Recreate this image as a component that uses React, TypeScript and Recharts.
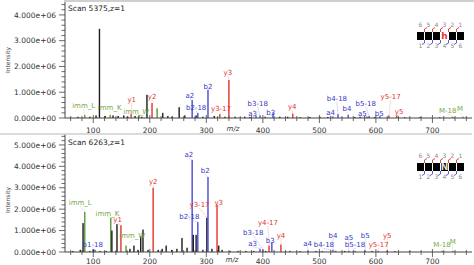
import React from 'react';
import { ComposedChart, Bar, Scatter, XAxis, YAxis, ReferenceLine } from 'recharts';

// ---------- data: top spectrum (Scan 5375) ----------
const topMz = [73,85,94,105,111,121,130,135,144,154,161,167,174,181,186,195,204,213,223,232,239,252,262,275,282,285,294,303,314,324,333,340,351,368,377,388,395,404,418,430,444,453,466,483,501,515,524,533,551,563,572,584,588,598,607,623,637,651,678,713,736,754];
const topIntensity = [0.05,0.12,0.05,0.1,3.46,0.08,0.12,0.1,0.08,0.1,0.06,0.15,0.08,0.12,0.05,0.9,0.58,0.38,0.2,0.08,0.05,0.42,0.1,0.7,0.1,0.2,0.05,1.1,0.08,0.15,0.05,1.48,0.05,0.05,0.04,0.08,0.1,0.05,0.2,0.05,0.05,0.17,0.03,0.04,0.05,0.04,0.06,0.15,0.12,0.04,0.05,0.06,0.08,0.04,0.08,0.1,0.1,0.03,0.03,0.03,0.05,0.05];
const topIon = ['n','i','n','n','n','n','i','n','n','n','n','y','n','i','n','n','y','i','n','n','n','n','n','b','n','b','n','b','n','y','n','y','n','n','n','b','b','n','b','n','n','y','n','n','n','n','b','b','b','n','n','b','b','n','b','y','y','n','n','n','i','i'];
const topLabelText = ['imm_L','imm_K','y1','imm_W','y2','a2','b2','y3','b2-18','y3-17','b3-18','a3','b3','y4','b4-18','a4','b4','b5-18','a5','b5','y5-17','y5','M-18','M'];
const topLabelMz = [83,129,168,176,204,271,303,338,282,326,391,382,414,452,531,520,549,582,576,606,626,641,727,749];
const topLabelI = [0.47,0.39,0.7,0.27,0.82,0.89,1.24,1.75,0.39,0.35,0.58,0.19,0.23,0.43,0.74,0.23,0.35,0.58,0.19,0.19,0.82,0.27,0.31,0.35];
const topLabelPeak = [85,130,167,181,204,275,303,340,285,324,395,388,418,453,533,524,551,588,584,607,623,637,736,754];
const topYTicks = [0,0.2,0.4,0.6,0.8,1,1.2,1.4,1.6,1.8,2,2.2,2.4,2.6,2.8,3,3.2,3.4,3.6,3.8,4,4.2,4.4];

// ---------- data: bottom spectrum (Scan 6263) ----------
const botMz = [64,77,82,85,94,100,103,112,123,131,133,142,149,158,165,172,179,184,188,197,206,215,222,229,239,248,257,266,275,277,282,285,294,301,303,310,319,322,328,342,356,370,384,395,400,405,411,416,432,448,466,480,494,505,524,529,545,552,563,581,593,604,620,634,660,717,736];
const botIntensity = [0.05,0.1,1.35,1.87,0.05,0.12,0.1,0.05,0.05,1.6,1.0,1.3,1.25,0.3,0.15,0.3,0.1,0.75,1.05,0.1,3.0,0.1,0.15,0.3,0.1,0.15,0.65,0.2,4.3,0.8,0.8,1.4,0.1,1.6,3.5,0.15,2.2,0.3,0.1,0.05,0.05,0.05,0.05,0.15,0.1,0.05,0.3,0.45,0.35,0.05,0.04,0.04,0.05,0.04,0.1,0.05,0.05,0.06,0.05,0.07,0.05,0.05,0.08,0.04,0.03,0.05,0.05];
const botIon = ['n','n','n','i','n','n','b','n','n','i','n','n','y','i','n','n','n','n','n','n','y','n','n','n','n','n','n','n','b','n','n','b','n','n','b','n','y','n','n','n','n','n','n','b','b','n','y','b','y','n','n','b','n','n','b','b','n','b','b','b','n','y','y','n','n','i','i'];
const botLabelText = ['imm_L','imm_K','y1','imm_W','b1-18','y2','a2','b2','y3-17','y3','b2-18','y4-17','b3-18','y4','a3','b3','a4','b4-18','b4','a5','b5-18','b5','y5-17','y5','M-18','M'];
const botLabelMz = [77,125,143,169,99,206,269,298,288,322,270,409,383,432,382,413,479,508,524,552,563,581,605,620,717,736];
const botLabelI = [2.29,1.82,1.5,0.75,0.37,3.27,4.53,3.79,2.2,2.29,1.68,1.36,0.93,0.79,0.42,0.56,0.42,0.33,0.79,0.7,0.33,0.79,0.33,0.79,0.33,0.51];
const botLabelPeak = [85,131,149,158,103,206,275,303,301,319,285,411,400,432,395,416,480,529,524,552,563,581,604,620,717,736];
const botYTicks = [0,0.2,0.4,0.6,0.8,1,1.2,1.4,1.6,1.8,2,2.2,2.4,2.6,2.8,3,3.2,3.4,3.6,3.8,4,4.2,4.4,4.6,4.8,5,5.2,5.4];

const xTicks = [60,80,100,120,140,160,180,200,220,240,260,280,300,320,340,360,380,400,420,440,460,480,500,520,540,560,580,600,620,640,660,680,700,720,740,760];
const seqTop = ['6','5','4','3','2','1'];
const seqBottom = ['1','2','3','4','5','6'];

// ---------- styling ----------
const FONT = '"DejaVu Sans", Verdana, sans-serif';
const BAR_COLORS: Record<string, string> = { n: '#1c1c1c', y: '#e3342c', b: '#4b4bd2', i: '#5c9a3a' };
const LABEL_COLORS: Record<string, string> = { y: '#e3342c', b: '#3838c4', i: '#7aa845' };
const LINK_COLORS: Record<string, string> = { y: '#eea49c', b: '#a8a8e6', i: '#c4d6a0' };

function ionOf(t: string) {
  if (t[0] === 'y') return 'y';
  if (t[0] === 'a' || t[0] === 'b') return 'b';
  return 'i';
}

function fmtExp(v: number) {
  if (v === 0) return '0.000e+00';
  return `${v.toFixed(3)}e+06`;
}

const StickShape = (props: any) => {
  const { x, y, width, height } = props;
  const ion = (props.payload && props.payload.ion) || props.ion || 'n';
  if (x == null || y == null) return null;
  const cx = x + (width || 0) / 2;
  return <rect x={cx - 0.7} y={y} width={1.4} height={Math.max(height || 0, 0.6)} fill={BAR_COLORS[ion]} />;
};

const LabelShape = (props: any) => {
  const { cx, cy, payload } = props;
  if (cx == null || cy == null) return null;
  return (
    <text x={cx} y={cy + 2.5} textAnchor="middle" fontSize={7} fontFamily={FONT} fill={LABEL_COLORS[payload.ion]}>
      {payload.text}
    </text>
  );
};

function Panel(p: any) {
  const { mz, inten, ion, labText, labMz, labI, labPeak, yMax, yTicks, height, xAxisHeight, labelDy, halfLabel } = p;
  const data = mz.map((m: number, k: number) => ({ mz: m, v: inten[k], ion: ion[k] }));
  const labels = labText.map((t: string, k: number) => ({ mz: labMz[k], v: labI[k], text: t, ion: ionOf(t) }));
  const peakI = (m: number) => {
    const k = mz.indexOf(m);
    return k >= 0 ? inten[k] : 0;
  };
  const xTick = (tp: any) => {
    const { x, y, payload } = tp;
    const v = payload.value;
    const major = v % 100 === 0;
    return (
      <g>
        <line x1={x} x2={x} y1={y - (major ? 3 : 2)} y2={y + (major ? 5 : 3)} stroke="#444" strokeWidth={0.8} />
        {major && (
          <text x={x} y={y + labelDy} textAnchor="middle" fontSize={7.5} fontFamily={FONT} fill="#333">
            {v}
          </text>
        )}
      </g>
    );
  };
  const yTick = (tp: any) => {
    const { x, y, payload } = tp;
    const v = payload.value;
    const major = Math.abs(v - Math.round(v)) < 1e-6;
    return (
      <g>
        <line x1={x - (major ? 6 : 3.5)} x2={x} y1={y} y2={y} stroke="#444" strokeWidth={0.8} />
        {major && (
          <text x={x - 9} y={y + 2.6} textAnchor="end" fontSize={7.5} fontFamily={FONT} fill="#333">
            {fmtExp(Math.round(v))}
          </text>
        )}
      </g>
    );
  };
  return (
    <ComposedChart width={474} height={height} data={data} margin={{ top: p.marginTop, right: 2, left: 0, bottom: 0 }}>
      <XAxis
        dataKey="mz"
        type="number"
        domain={[50, 770]}
        allowDataOverflow
        ticks={xTicks}
        interval={0}
        tickSize={0}
        tickMargin={0}
        tickLine={false}
        height={xAxisHeight}
        axisLine={{ stroke: '#444', strokeWidth: 1 }}
        tick={xTick}
      />
      <YAxis
        type="number"
        domain={[0, yMax]}
        allowDataOverflow
        ticks={yTicks}
        interval={0}
        width={65}
        tickSize={0}
        tickMargin={0}
        tickLine={false}
        axisLine={{ stroke: '#444', strokeWidth: 1 }}
        tick={yTick}
      />
      <Bar dataKey="v" barSize={1.4} isAnimationActive={false} shape={StickShape} />
      {labels.map((l: any, k: number) => (
        <ReferenceLine
          key={'c' + k}
          segment={[
            { x: l.mz, y: l.v - halfLabel },
            { x: labPeak[k], y: peakI(labPeak[k]) },
          ]}
          stroke={LINK_COLORS[l.ion]}
          strokeWidth={0.8}
          strokeDasharray="1 1"
          ifOverflow="visible"
        />
      ))}
      <Scatter data={labels} dataKey="v" isAnimationActive={false} shape={LabelShape} />
    </ComposedChart>
  );
}

function SeqInset({ top, letter, letterColor, boxFill }: { top: number; letter: string; letterColor: string; boxFill: string }) {
  const x0 = 417;
  const w = 8;
  return (
    <g>
      {seqTop.map((s, k) => (
        <text key={'t' + k} x={x0 + 3.5 + k * w} y={top - 5} textAnchor="middle" fontSize={6} fontFamily={FONT} fill="#888">
          {s}
        </text>
      ))}
      {seqBottom.map((s, k) => (
        <text key={'b' + k} x={x0 + 3.5 + k * w} y={top + 16} textAnchor="middle" fontSize={6} fontFamily={FONT} fill="#888">
          {s}
        </text>
      ))}
      {seqTop.map((s, k) => (
        <rect key={'r' + k} x={x0 + k * w} y={top} width={7} height={8} fill={k === 3 ? boxFill : '#000'} />
      ))}
      {[1, 2, 3, 4, 5].map((k) => (
        <path key={'ry' + k} d={`M${x0 + k * w - 0.5} ${top} L${x0 + k * w - 0.5} ${top - 3} L${x0 + k * w + 2} ${top - 4.5}`} stroke="#e3342c" strokeWidth={0.9} fill="none" />
      ))}
      {[1, 2, 3, 4, 5].map((k) => (
        <path key={'bb' + k} d={`M${x0 + k * w - 0.5} ${top + 8} L${x0 + k * w - 0.5} ${top + 11} L${x0 + k * w - 3} ${top + 12.5}`} stroke="#4b4bd2" strokeWidth={0.9} fill="none" />
      ))}
      <text x={x0 + 3 * w + 3.5} y={top + 7} textAnchor="middle" fontSize={9} fontWeight="bold" fontFamily={FONT} fill={letterColor}>
        {letter}
      </text>
    </g>
  );
}

export default function App() {
  return (
    <div style={{ position: 'absolute', left: 0, top: 0, width: 474, height: 265, background: '#fff', overflow: 'hidden' }}>
      <div style={{ position: 'absolute', left: 0, top: 0 }}>
        <Panel
          mz={topMz}
          inten={topIntensity}
          ion={topIon}
          labText={topLabelText}
          labMz={topLabelMz}
          labI={topLabelI}
          labPeak={topLabelPeak}
          yMax={4.54}
          yTicks={topYTicks}
          height={134}
          marginTop={1}
          xAxisHeight={16}
          labelDy={14.5}
          halfLabel={0.14}
        />
      </div>
      <div style={{ position: 'absolute', left: 0, top: 134 }}>
        <Panel
          mz={botMz}
          inten={botIntensity}
          ion={botIon}
          labText={botLabelText}
          labMz={botLabelMz}
          labI={botLabelI}
          labPeak={botLabelPeak}
          yMax={5.51}
          yTicks={botYTicks}
          height={131}
          marginTop={0}
          xAxisHeight={13}
          labelDy={12.3}
          halfLabel={0.16}
        />
      </div>
      <svg width={474} height={265} style={{ position: 'absolute', left: 0, top: 0, pointerEvents: 'none' }}>
        <line x1={64} x2={474} y1={1} y2={1} stroke="#cfcfcf" strokeWidth={2} />
        <line x1={0} x2={472} y1={134} y2={134} stroke="#cfcfcf" strokeWidth={1.5} />
        <text x={68} y={10.5} fontSize={7.5} fontFamily={FONT} fill="#222">Scan 5375,z=1</text>
        <text x={68} y={145} fontSize={7.5} fontFamily={FONT} fill="#222">Scan 6263,z=1</text>
        <text x={233} y={130.5} textAnchor="middle" fontSize={7} fontStyle="italic" fontFamily={FONT} fill="#333">m/z</text>
        <text x={232} y={261.5} textAnchor="middle" fontSize={7} fontStyle="italic" fontFamily={FONT} fill="#333">m/z</text>
        <text transform="translate(10,60) rotate(-90)" textAnchor="middle" fontSize={6} fontFamily={FONT} fill="#444">Intensity</text>
        <text transform="translate(10,200) rotate(-90)" textAnchor="middle" fontSize={6} fontFamily={FONT} fill="#444">Intensity</text>
        <SeqInset top={32} letter="h" letterColor="#e3342c" boxFill="#ffffff" />
        <SeqInset top={163} letter="N" letterColor="#dddddd" boxFill="#000000" />
      </svg>
    </div>
  );
}
